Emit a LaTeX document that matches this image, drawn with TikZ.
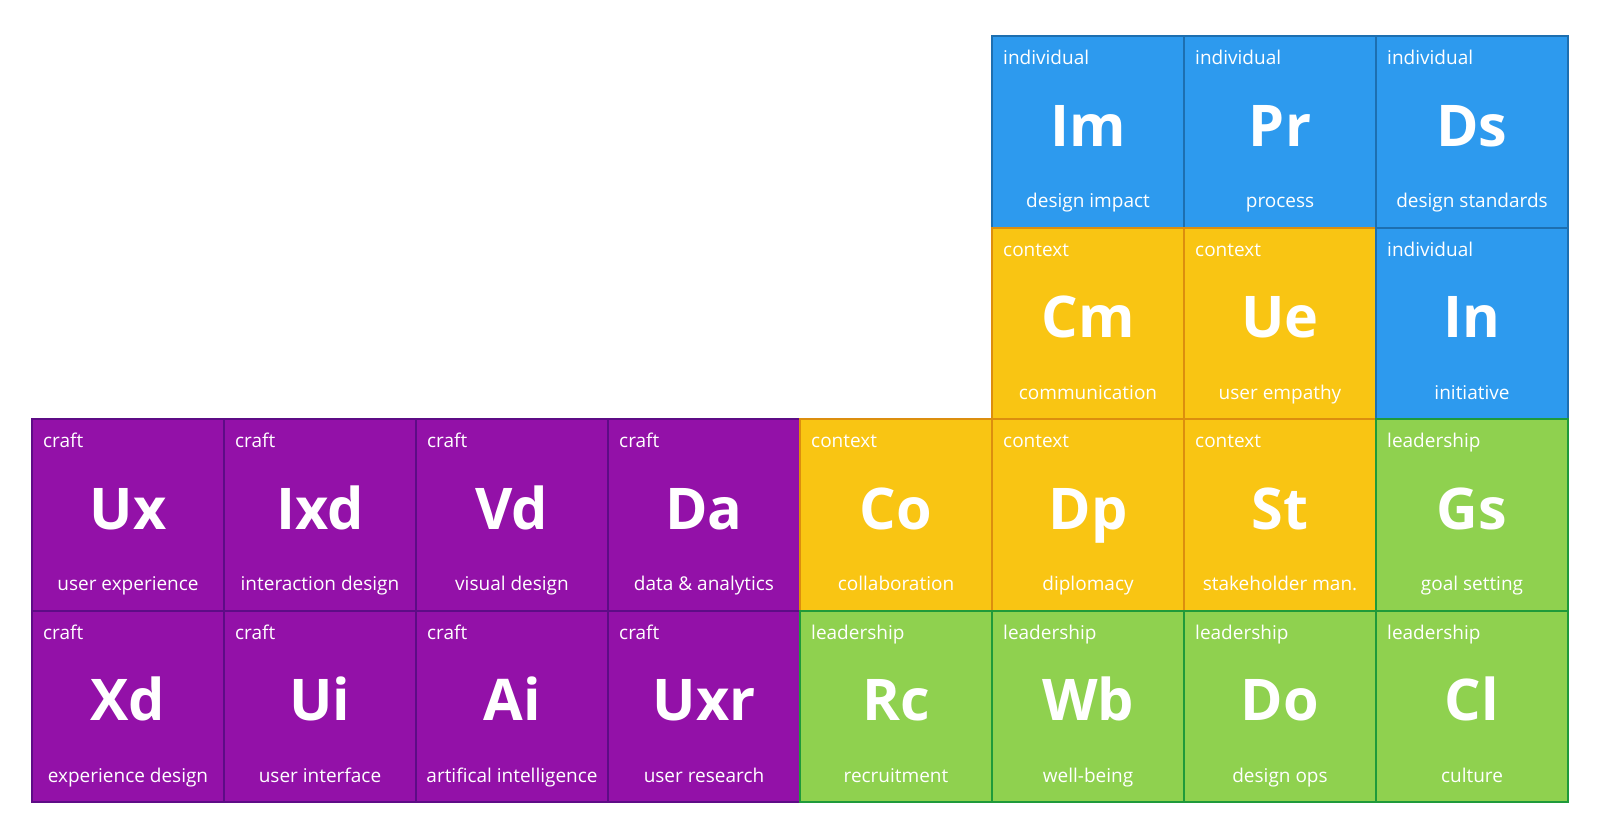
\documentclass[tikz,border=0pt]{standalone}
\usepackage{fontspec}
\setmainfont{Open Sans}
\definecolor{bluef}{HTML}{2D9AEE}
\definecolor{blueb}{HTML}{1D6FB0}
\definecolor{yelf}{HTML}{F9C513}
\definecolor{yelb}{HTML}{DC8E0E}
\definecolor{grnf}{HTML}{8FD14F}
\definecolor{grnb}{HTML}{1F9A3A}
\definecolor{purf}{HTML}{9311A8}
\definecolor{purb}{HTML}{5E0C86}
\tikzset{
  cellbox/.style={rectangle, draw, line width=2pt, minimum width=192pt, minimum height=191.5pt, inner sep=0pt, anchor=north west},
  individual/.style={cellbox, fill=bluef, draw=blueb},
  context/.style={cellbox, fill=yelf, draw=yelb},
  leadership/.style={cellbox, fill=grnf, draw=grnb},
  craft/.style={cellbox, fill=purf, draw=purb},
  cattext/.style={text=white, font=\fontsize{19}{22}\selectfont, anchor=base west, inner sep=0pt},
  symtext/.style={text=white, font=\fontsize{57.5}{64}\selectfont\bfseries, anchor=base, inner sep=0pt},
  nametext/.style={text=white, font=\fontsize{19}{22}\selectfont, anchor=base, inner sep=0pt},
}
\begin{document}
\begin{tikzpicture}[x=1pt,y=-1pt]
\useasboundingbox (0,0) rectangle (1600,838);
\foreach \c/\r/\k/\s/\n in {
  5/0/individual/Im/design impact,
  6/0/individual/Pr/process,
  7/0/individual/Ds/design standards,
  5/1/context/Cm/communication,
  6/1/context/Ue/user empathy,
  7/1/individual/In/initiative,
  0/2/craft/Ux/user experience,
  1/2/craft/Ixd/interaction design,
  2/2/craft/Vd/visual design,
  3/2/craft/Da/data \& analytics,
  4/2/context/Co/collaboration,
  5/2/context/Dp/diplomacy,
  6/2/context/St/stakeholder man.,
  7/2/leadership/Gs/goal setting,
  0/3/craft/Xd/experience design,
  1/3/craft/Ui/user interface,
  2/3/craft/Ai/artifical intelligence,
  3/3/craft/Uxr/user research,
  4/3/leadership/Rc/recruitment,
  5/3/leadership/Wb/well-being,
  6/3/leadership/Do/design ops,
  7/3/leadership/Cl/culture}{
  \node[\k] (cell-\s) at ({31+192*\c},{35+191.5*\r}) {};
  \node[cattext] (cat-\s) at ([xshift=12pt,yshift=-29.5pt]cell-\s.north west) {\k};
  \node[symtext] (sym-\s) at ([yshift=-111pt]cell-\s.north) {\s};
  \node[nametext] (name-\s) at ([yshift=-172.5pt]cell-\s.north) {\n};
}
\end{tikzpicture}
\end{document}
